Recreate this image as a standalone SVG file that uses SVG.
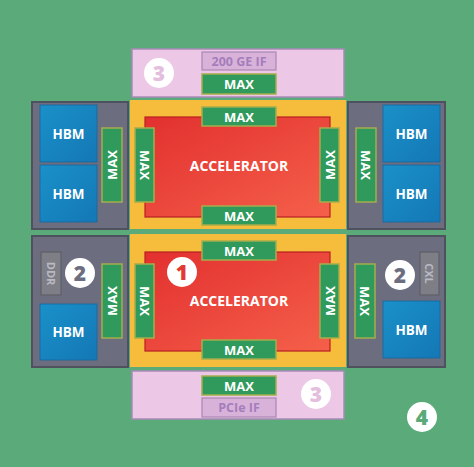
<svg xmlns="http://www.w3.org/2000/svg" width="474" height="467" viewBox="0 0 474 467">
<defs>
<linearGradient id="red" x1="0" y1="0" x2="1" y2="1"><stop offset="0" stop-color="#e2302f"/><stop offset="1" stop-color="#f5604a"/></linearGradient>
<linearGradient id="blue" x1="0" y1="0" x2="1" y2="1"><stop offset="0" stop-color="#1a90c9"/><stop offset="1" stop-color="#1478b5"/></linearGradient>
<style>
text{font-family:"Open Sans","Liberation Sans",sans-serif;font-weight:700;text-anchor:middle;dominant-baseline:central}
.gray{fill:#6c6e7f;stroke:#4f525e;stroke-width:2}
.yel{fill:#f6bd3c}
.pink{fill:#ecc8e6;stroke:#a88bb6;stroke-width:1.5}
.ifb{fill:#d9b2da;stroke:#a887b5;stroke-width:1.2}
.ift{fill:#a47ebb;font-size:12.5px}
.red{fill:url(#red);stroke:#b81e22;stroke-width:1.2}
.max{fill:#2f9a5c;stroke:#a5ad4c;stroke-width:1.5}
.mt{fill:#fff;font-size:13px}
.hbm{fill:url(#blue);stroke:#1467a0;stroke-width:0.8}
.ht{fill:#fff;font-size:13.5px}
.small{fill:#7d7e86;stroke:#5e5f66;stroke-width:1.2}
.st{fill:#b9b9c2;font-size:11px}
.acc{fill:#fff;font-size:14px}
.circ{fill:#fff}
.num{font-size:21px;font-weight:800}
</style>
</defs>
<rect width="474" height="467" fill="#5aaa7a"/>

<g id="pink-top">
<rect class="pink" x="132" y="49" width="212" height="48"/>
<rect class="ifb" x="202" y="52" width="74" height="18"/>
<text class="ift" x="239" y="61">200 GE IF</text>
<rect class="max" x="202" y="74" width="74" height="20"/>
<text class="mt" x="239" y="84">MAX</text>
<circle class="circ" cx="159" cy="73" r="15"/>
<text class="num" x="159" y="73" fill="#e4bedd">3</text>
</g>

<g id="hbm-top-left">
<rect class="gray" x="32" y="102" width="96" height="127"/>
<rect class="hbm" x="40" y="105" width="57" height="57"/>
<text class="ht" x="68.5" y="133.5">HBM</text>
<rect class="hbm" x="40" y="165" width="57" height="57"/>
<text class="ht" x="68.5" y="193.5">HBM</text>
<rect class="max" x="102" y="128" width="20" height="74"/>
<text class="mt" transform="translate(112 165) rotate(-90)">MAX</text>
</g>

<g id="hbm-top-right">
<rect class="gray" x="348" y="102" width="97" height="127"/>
<rect class="hbm" x="383" y="105" width="57" height="57"/>
<text class="ht" x="411.5" y="133.5">HBM</text>
<rect class="hbm" x="383" y="165" width="57" height="57"/>
<text class="ht" x="411.5" y="193.5">HBM</text>
<rect class="max" x="356" y="128" width="20" height="74"/>
<text class="mt" transform="translate(366 165) rotate(90)">MAX</text>
</g>

<g id="accel-top">
<rect class="yel" x="130" y="100" width="216" height="129"/>
<rect class="red" x="145" y="117" width="185" height="100"/>
<rect class="max" x="202" y="107" width="74" height="19"/>
<text class="mt" x="239" y="116.5">MAX</text>
<rect class="max" x="202" y="206" width="74" height="19"/>
<text class="mt" x="239" y="215.5">MAX</text>
<rect class="max" x="135" y="128" width="19" height="74"/>
<text class="mt" transform="translate(144.5 165) rotate(90)">MAX</text>
<rect class="max" x="320" y="128" width="19" height="74"/>
<text class="mt" transform="translate(329.5 165) rotate(-90)">MAX</text>
<text class="acc" x="239" y="165">ACCELERATOR</text>
</g>

<g id="ddr-left">
<rect class="gray" x="32" y="236" width="96" height="131"/>
<rect class="small" x="41" y="252" width="20" height="43"/>
<text class="st" transform="translate(51 273.5) rotate(90)">DDR</text>
<circle class="circ" cx="80" cy="273" r="15"/>
<text class="num" x="80" y="273" fill="#6c6e7f">2</text>
<rect class="hbm" x="40" y="304" width="57" height="56"/>
<text class="ht" x="68.5" y="332">HBM</text>
<rect class="max" x="102" y="264" width="20" height="74"/>
<text class="mt" transform="translate(112 301) rotate(-90)">MAX</text>
</g>

<g id="cxl-right">
<rect class="gray" x="348" y="236" width="97" height="131"/>
<rect class="small" x="420" y="252" width="19" height="43"/>
<text class="st" transform="translate(429.5 273.5) rotate(90)">CXL</text>
<circle class="circ" cx="400" cy="275" r="15"/>
<text class="num" x="400" y="275" fill="#6c6e7f">2</text>
<rect class="hbm" x="383" y="301" width="57" height="57"/>
<text class="ht" x="411.5" y="329.5">HBM</text>
<rect class="max" x="355" y="264" width="20" height="74"/>
<text class="mt" transform="translate(365 301) rotate(90)">MAX</text>
</g>

<g id="accel-bottom">
<rect class="yel" x="130" y="234" width="216" height="133"/>
<rect class="red" x="145" y="252" width="185" height="99"/>
<rect class="max" x="202" y="241" width="74" height="19"/>
<text class="mt" x="239" y="250.5">MAX</text>
<rect class="max" x="202" y="340" width="74" height="19"/>
<text class="mt" x="239" y="349.5">MAX</text>
<rect class="max" x="135" y="264" width="19" height="74"/>
<text class="mt" transform="translate(144.5 301) rotate(90)">MAX</text>
<rect class="max" x="320" y="264" width="19" height="74"/>
<text class="mt" transform="translate(329.5 301) rotate(-90)">MAX</text>
<circle class="circ" cx="182" cy="272" r="15"/>
<text class="num" x="182" y="272" fill="#e33a33">1</text>
<text class="acc" x="239" y="300">ACCELERATOR</text>
</g>

<g id="pink-bottom">
<rect class="pink" x="132" y="371" width="212" height="48"/>
<rect class="max" x="202" y="376" width="74" height="19"/>
<text class="mt" x="239" y="385.5">MAX</text>
<rect class="ifb" x="202" y="398" width="74" height="19"/>
<text class="ift" x="239" y="407.5">PCIe IF</text>
<circle class="circ" cx="316" cy="394" r="15"/>
<text class="num" x="316" y="394" fill="#e4bedd">3</text>
</g>

<g id="label-4">
<circle class="circ" cx="422" cy="417" r="15"/>
<text class="num" x="422" y="417" fill="#5aaa7a">4</text>
</g>

<g id="connectors"/>
</svg>
